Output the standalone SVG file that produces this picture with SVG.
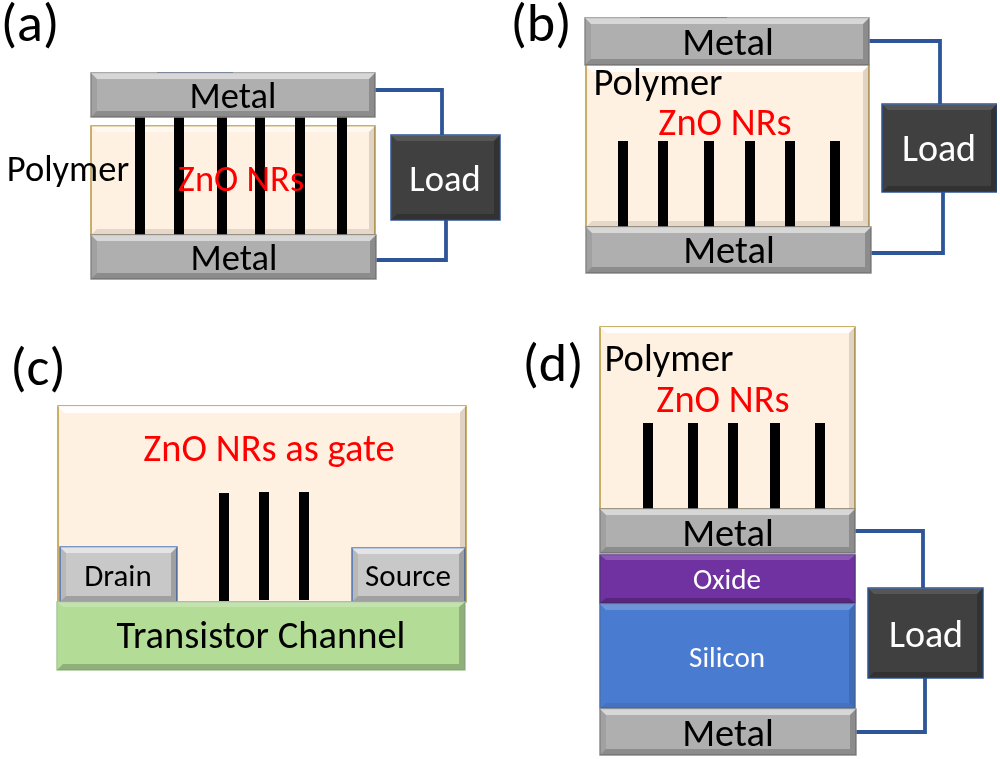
<svg xmlns="http://www.w3.org/2000/svg" width="1000" height="759" viewBox="0 0 1000 759">
<style>
text{font-family:Carlito,Lato,"Open Sans",sans-serif;text-anchor:middle}
.panel{font-size:54px;fill:#000}
.l{font-size:38.5px;fill:#000}
.w{font-size:38px;fill:#fff}
.r{font-size:38.5px;fill:#f00}
#panel-a .l,#panel-a .w,#panel-a .r{font-size:36.5px}
#panel-c .s{font-size:31px}
#panel-d .s{font-size:29px}
.metal{fill:#afafaf;stroke:#8f8f8f;stroke-width:1.5}
.poly{fill:#fff1e2;stroke:#b8963c;stroke-width:1.5}
.load{fill:#404040;stroke:#2f5597;stroke-width:1.5}
.gd{fill:#c8c8c8;stroke:#4f79c0;stroke-width:1.5}
.chan{fill:#b3dc97;stroke:#a9c99a;stroke-width:1.5}
.ox{fill:#7030a0;stroke:#553080;stroke-width:1.5}
.si{fill:#4a7bd0;stroke:#4a70b0;stroke-width:1.5}
.hi{fill:#fff;fill-opacity:.5}
.lo{fill:#000;fill-opacity:.2}
.sl{fill:#000;fill-opacity:.08}
.sr{fill:#000;fill-opacity:.2}
.pl{fill-opacity:.1}
.pr{fill-opacity:.12}
.nr{fill:#000}
.wire{fill:none;stroke:#2f5597;stroke-width:3.8}
.tick{fill:none;stroke:#4472c4;stroke-width:2}
</style>
<defs><filter id="soft" x="0" y="0" width="100%" height="100%"><feGaussianBlur stdDeviation="0.55"/></filter></defs>
<g filter="url(#soft)">
<g id="connectors">
<path class="wire" d="M375 90H442V135"/>
<path class="wire" d="M446 220V260H375"/>
<path class="tick" d="M157 73H233"/>
<path class="wire" d="M869 41H940V104"/>
<path class="wire" d="M943 192V253H870"/>
<path class="tick" d="M640 18H727"/>
<path class="wire" d="M855 531H923V588"/>
<path class="wire" d="M925 678V732H855"/>
</g>
<g id="panel-a">
<text class="panel" x="30" y="41">(a)</text>
<g id="a-polymer"><rect class="poly" x="91" y="126" width="284" height="109"/><path class="hi" d="M91 126h284l-6 6h-272z"/><path class="lo pl" d="M91 235h284l-6 -6h-272z"/><path class="sr pr" d="M375 126l-6 6v97l6 6z"/></g>
<g id="a-nanorods"><rect class="nr" x="135" y="116" width="10" height="120"/><rect class="nr" x="174" y="116" width="10" height="120"/><rect class="nr" x="217" y="116" width="10" height="120"/><rect class="nr" x="255" y="116" width="10" height="120"/><rect class="nr" x="295" y="116" width="10" height="120"/><rect class="nr" x="337" y="116" width="10" height="120"/></g>
<g id="a-metal-top"><rect class="metal" x="91" y="73" width="284" height="44"/><path class="hi" d="M91 73h284l-6 6h-272z"/><path class="lo" d="M91 117h284l-6 -6h-272z"/><path class="sl" d="M91 73l6 6v32l-6 6z"/><path class="sr" d="M375 73l-6 6v32l6 6z"/><text class="l" x="233" y="108">Metal</text></g>
<g id="a-metal-bottom"><rect class="metal" x="91" y="235" width="285" height="44"/><path class="hi" d="M91 235h285l-6 6h-273z"/><path class="lo" d="M91 279h285l-6 -6h-273z"/><path class="sl" d="M91 235l6 6v32l-6 6z"/><path class="sr" d="M376 235l-6 6v32l6 6z"/><text class="l" x="234" y="270">Metal</text></g>
<g id="a-load"><rect class="load" x="391" y="135" width="109" height="85"/><path class="hi" style="fill-opacity:.12" d="M391 135h109l-6 6h-97z"/><path class="lo" d="M391 220h109l-6 -6h-97z"/><path class="sr" d="M500 135l-6 6v73l6 6z"/><text class="w" x="445" y="191">Load</text></g>
<text class="l" x="68" y="181">Polymer</text>
<text class="r" x="241" y="191">ZnO NRs</text>
</g>
<g id="panel-b">
<text class="panel" x="541" y="41">(b)</text>
<g id="b-polymer"><rect class="poly" x="586" y="65" width="283" height="162"/><path class="hi" style="fill-opacity:.9" d="M586 65h283l-6 7h-271z"/><path class="lo pl" d="M586 227h283l-6 -6h-271z"/><path class="sr pr" d="M869 65l-6 6v150l6 6z"/></g>
<g id="b-nanorods"><rect class="nr" x="618" y="141" width="10" height="86"/><rect class="nr" x="658" y="141" width="10" height="86"/><rect class="nr" x="704" y="141" width="10" height="86"/><rect class="nr" x="745" y="141" width="10" height="86"/><rect class="nr" x="785" y="141" width="10" height="86"/><rect class="nr" x="830" y="141" width="10" height="86"/></g>
<g id="b-metal-top"><rect class="metal" x="585" y="18" width="284" height="47"/><path class="hi" d="M585 18h284l-6 6h-272z"/><path class="lo" d="M585 65h284l-6 -6h-272z"/><path class="sl" d="M585 18l6 6v35l-6 6z"/><path class="sr" d="M869 18l-6 6v35l6 6z"/><text class="l" x="728" y="55">Metal</text></g>
<g id="b-metal-bottom"><rect class="metal" x="586" y="227" width="285" height="46"/><path class="hi" d="M586 227h285l-6 6h-273z"/><path class="lo" d="M586 273h285l-6 -6h-273z"/><path class="sl" d="M586 227l6 6v34l-6 6z"/><path class="sr" d="M871 227l-6 6v34l6 6z"/><text class="l" x="729" y="263">Metal</text></g>
<g id="b-load"><rect class="load" x="882" y="104" width="115" height="88"/><path class="hi" style="fill-opacity:.12" d="M882 104h115l-6 6h-103z"/><path class="lo" d="M882 192h115l-6 -6h-103z"/><path class="sr" d="M997 104l-6 6v76l6 6z"/><text class="w" x="939" y="161">Load</text></g>
<text class="l" x="658" y="95">Polymer</text>
<text class="r" x="725" y="135">ZnO NRs</text>
</g>
<g id="panel-c">
<text class="panel" x="38" y="385">(c)</text>
<g id="c-polymer"><rect class="poly" x="58" y="406" width="408" height="196"/><path class="hi" style="fill-opacity:.9" d="M58 406h408l-6 7h-396z"/><path class="sr pr" d="M466 406l-6 6v190h6z"/></g>
<g id="c-nanorods"><rect class="nr" x="219" y="493" width="10" height="108"/><rect class="nr" x="259" y="492" width="10" height="108"/><rect class="nr" x="299" y="492" width="10" height="108"/></g>
<g id="c-drain"><rect class="gd" x="60" y="547" width="117" height="55"/><path class="hi" d="M60 547h117l-6 6h-105z"/><path class="lo" d="M60 602h117l-6 -6h-105z"/><path class="sl" d="M60 547l6 6v43l-6 6z"/><path class="sr" d="M177 547l-6 6v43l6 6z"/><text class="l s" x="118" y="586">Drain</text></g>
<g id="c-source"><rect class="gd" x="352" y="548" width="113" height="54"/><path class="hi" d="M352 548h113l-6 6h-101z"/><path class="lo" d="M352 602h113l-6 -6h-101z"/><path class="sl" d="M352 548l6 6v42l-6 6z"/><path class="sr" d="M465 548l-6 6v42l6 6z"/><text class="l s" x="408" y="586">Source</text></g>
<g id="c-channel"><rect class="chan" x="57" y="602" width="408" height="68"/><path class="hi" style="fill-opacity:.2" d="M57 602h408l-6 5h-396z"/><path class="lo" d="M57 670h408l-6 -6h-396z"/><path class="sr" d="M465 602l-6 5v57l6 6z"/><text class="l" x="261" y="648">Transistor Channel</text></g>
<text class="r" x="269" y="461">ZnO NRs as gate</text>
</g>
<g id="panel-d">
<text class="panel" x="553" y="381">(d)</text>
<g id="d-polymer"><rect class="poly" x="600" y="327" width="255" height="182"/><path class="hi" style="fill-opacity:.9" d="M600 327h255l-6 6h-243z"/><path class="sr pr" d="M855 327l-6 6v176h6z"/></g>
<g id="d-nanorods"><rect class="nr" x="643" y="423" width="10" height="86"/><rect class="nr" x="688" y="423" width="10" height="86"/><rect class="nr" x="728" y="423" width="10" height="86"/><rect class="nr" x="770" y="423" width="10" height="86"/><rect class="nr" x="815" y="423" width="10" height="86"/></g>
<g id="d-metal-top"><rect class="metal" x="600" y="509" width="255" height="44"/><path class="hi" d="M600 509h255l-6 6h-243z"/><path class="lo" d="M600 553h255l-6 -6h-243z"/><path class="sl" d="M600 509l6 6v32l-6 6z"/><path class="sr" d="M855 509l-6 6v32l6 6z"/><text class="l" x="728" y="546">Metal</text></g>
<g id="d-oxide"><rect class="ox" x="600" y="555" width="255" height="48"/><path class="hi" style="fill-opacity:.2" d="M600 555h255l-6 5h-243z"/><path class="lo" d="M600 603h255l-6 -5h-243z"/><text class="w s" x="727" y="589">Oxide</text></g>
<g id="d-silicon"><rect class="si" x="600" y="604" width="255" height="104"/><path class="hi" style="fill-opacity:.2" d="M600 604h255l-6 6h-243z"/><path class="lo" style="fill-opacity:.08" d="M600 708h255l-6 -5h-243z"/><path class="sr pr" d="M855 604l-6 6v93l6 5z"/><text class="w s" x="727" y="667">Silicon</text></g>
<g id="d-metal-bottom"><rect class="metal" x="600" y="709" width="256" height="46"/><path class="hi" d="M600 709h256l-6 6h-244z"/><path class="lo" d="M600 755h256l-6 -6h-244z"/><path class="sl" d="M600 709l6 6v34l-6 6z"/><path class="sr" d="M856 709l-6 6v34l6 6z"/><text class="l" x="728" y="746">Metal</text></g>
<g id="d-load"><rect class="load" x="868" y="588" width="115" height="90"/><path class="hi" style="fill-opacity:.12" d="M868 588h115l-6 6h-103z"/><path class="lo" d="M868 678h115l-6 -6h-103z"/><path class="sr" d="M983 588l-6 6v78l6 6z"/><text class="w" x="926" y="647">Load</text></g>
<text class="l" x="669" y="371">Polymer</text>
<text class="r" x="723" y="412">ZnO NRs</text>
</g>
</g>
</svg>
